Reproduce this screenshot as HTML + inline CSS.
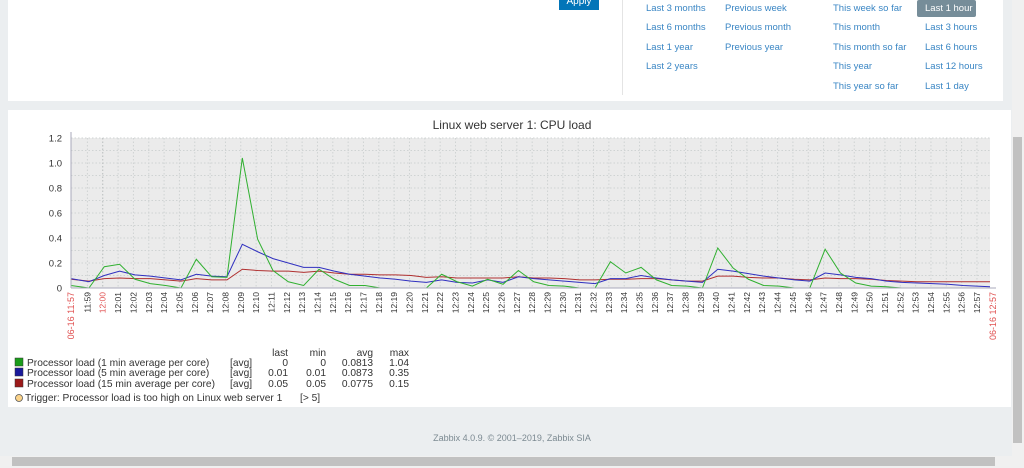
<!DOCTYPE html>
<html><head><meta charset="utf-8">
<style>
body{margin:0;width:1024px;height:468px;overflow:hidden;background:#ebeef0;font-family:"Liberation Sans",Arial,sans-serif;position:relative}
.abs{position:absolute}
.lnk{position:absolute;font-size:9.5px;color:#3a86c4;white-space:nowrap}
</style></head><body>
<div class="abs" style="left:8px;top:-2px;width:995px;height:103px;background:#fff"></div>
<div class="abs" style="left:559px;top:0;width:40px;height:10px;background:#0275b8;color:#fff;font-size:10px;text-align:center;line-height:4px">Apply</div>
<div class="abs" style="left:622px;top:0;width:1px;height:95px;background:#e4e4e4"></div>
<div class="lnk" style="left:646px;top:3px">Last 3 months</div>
<div class="lnk" style="left:646px;top:22px">Last 6 months</div>
<div class="lnk" style="left:646px;top:42px">Last 1 year</div>
<div class="lnk" style="left:646px;top:61px">Last 2 years</div>
<div class="lnk" style="left:725px;top:3px">Previous week</div>
<div class="lnk" style="left:725px;top:22px">Previous month</div>
<div class="lnk" style="left:725px;top:42px">Previous year</div>
<div class="lnk" style="left:833px;top:3px">This week so far</div>
<div class="lnk" style="left:833px;top:22px">This month</div>
<div class="lnk" style="left:833px;top:42px">This month so far</div>
<div class="lnk" style="left:833px;top:61px">This year</div>
<div class="lnk" style="left:833px;top:81px">This year so far</div>
<div class="abs" style="left:917px;top:0;width:59px;height:17px;background:#768d99;border-radius:2px"></div>
<div class="lnk" style="left:925px;top:3px;color:#fff">Last 1 hour</div>
<div class="lnk" style="left:925px;top:22px">Last 3 hours</div>
<div class="lnk" style="left:925px;top:42px">Last 6 hours</div>
<div class="lnk" style="left:925px;top:61px">Last 12 hours</div>
<div class="lnk" style="left:925px;top:81px">Last 1 day</div>

<div class="abs" style="left:8px;top:110px;width:1003px;height:297px;background:#fff"></div>
<svg class="abs" style="left:0;top:0" width="1024" height="468" id="chart" font-family="Liberation Sans, Arial, sans-serif">
<text x="512" y="129" text-anchor="middle" font-size="12" fill="#333">Linux web server 1: CPU load</text>
<rect x="71" y="138" width="919" height="150" fill="#ebebeb"/>
<g id="grid"></g><g id="ylab"></g><g id="xlab"></g><g id="series"></g>
<line x1="71" y1="132" x2="71" y2="288" stroke="#aab" stroke-width="1"/>
<line x1="71" y1="288" x2="996" y2="288" stroke="#aab" stroke-width="1"/>
<g font-size="10.2" fill="#333">
<text x="288" y="356" text-anchor="end">last</text><text x="326" y="356" text-anchor="end">min</text><text x="373" y="356" text-anchor="end">avg</text><text x="409" y="356" text-anchor="end">max</text>
<rect x="15" y="358" width="8" height="8" fill="#1a9c1a" stroke="#333" stroke-width="0.5"/>
<text x="27" y="366">Processor load (1 min average per core)</text><text x="230" y="366">[avg]</text>
<text x="288" y="366" text-anchor="end">0</text><text x="326" y="366" text-anchor="end">0</text><text x="373" y="366" text-anchor="end">0.0813</text><text x="409" y="366" text-anchor="end">1.04</text>
<rect x="15" y="368" width="8" height="8" fill="#1a1a9c" stroke="#333" stroke-width="0.5"/>
<text x="27" y="376">Processor load (5 min average per core)</text><text x="230" y="376">[avg]</text>
<text x="288" y="376" text-anchor="end">0.01</text><text x="326" y="376" text-anchor="end">0.01</text><text x="373" y="376" text-anchor="end">0.0873</text><text x="409" y="376" text-anchor="end">0.35</text>
<rect x="15" y="379" width="8" height="8" fill="#9c1a1a" stroke="#333" stroke-width="0.5"/>
<text x="27" y="387">Processor load (15 min average per core)</text><text x="230" y="387">[avg]</text>
<text x="288" y="387" text-anchor="end">0.05</text><text x="326" y="387" text-anchor="end">0.05</text><text x="373" y="387" text-anchor="end">0.0775</text><text x="409" y="387" text-anchor="end">0.15</text>
<circle cx="19" cy="398" r="3.5" fill="#fbd38a" stroke="#555" stroke-width="0.8"/>
<text x="25" y="401">Trigger: Processor load is too high on Linux web server 1</text><text x="300" y="401">[&gt; 5]</text>
</g>
<text x="512" y="441" text-anchor="middle" font-size="9" fill="#7c8a92">Zabbix 4.0.9. © 2001–2019, Zabbix SIA</text>
<rect x="1012" y="0" width="12" height="456" fill="#f0f0f0"/>
<rect x="1013" y="137" width="9" height="306" fill="#c1c1c1"/>
<rect x="0" y="456" width="1024" height="12" fill="#f0f0f0"/>
<rect x="12" y="457" width="983" height="9" fill="#c1c1c1"/>
</svg>
<script>
const yTicks=[0,0.2,0.4,0.6,0.8,1.0,1.2];
const yTickLabels=["0","0.2","0.4","0.6","0.8","1.0","1.2"];
const minuteLabels=["11:59","12:00","12:01","12:02","12:03","12:04","12:05","12:06","12:07","12:08","12:09","12:10","12:11","12:12","12:13","12:14","12:15","12:16","12:17","12:18","12:19","12:20","12:21","12:22","12:23","12:24","12:25","12:26","12:27","12:28","12:29","12:30","12:31","12:32","12:33","12:34","12:35","12:36","12:37","12:38","12:39","12:40","12:41","12:42","12:43","12:44","12:45","12:46","12:47","12:48","12:49","12:50","12:51","12:52","12:53","12:54","12:55","12:56","12:57"];
const minuteOffsets=[-1,0,1,2,3,4,5,6,7,8,9,10,11,12,13,14,15,16,17,18,19,20,21,22,23,24,25,26,27,28,29,30,31,32,33,34,35,36,37,38,39,40,41,42,43,44,45,46,47,48,49,50,51,52,53,54,55,56,57];
const pointTimes=[-2.07,-0.9,0.1,1.1,2.1,3.1,4.1,5.1,6.1,7.1,8.1,9.1,10.1,11.1,12.1,13.1,14.1,15.1,16.1,17.1,18.1,19.1,20.1,21.1,22.1,23.1,24.1,25.1,26.1,27.1,28.1,29.1,30.1,31.1,32.1,33.1,34.1,35.1,36.1,37.1,38.1,39.1,40.1,41.1,42.1,43.1,44.1,45.1,46.1,47.1,48.1,49.1,50.1,51.1,52.1,53.1,54.1,55.1,56.1,57.85];
const load1=[0.02,0,0.17,0.19,0.07,0.035,0.02,0,0.23,0.09,0.085,1.04,0.39,0.14,0.05,0.02,0.15,0.07,0.02,0.02,0,0,0,0,0.11,0.05,0.015,0.07,0.03,0.14,0.05,0.02,0.015,0,0,0.21,0.12,0.165,0.065,0.02,0.015,0,0.32,0.16,0.07,0.02,0.015,0,0,0.31,0.12,0.04,0.015,0.01,0,0,0,0,0,0];
const load5=[0.075,0.05,0.1,0.135,0.105,0.095,0.08,0.065,0.11,0.095,0.09,0.35,0.29,0.235,0.2,0.165,0.165,0.135,0.11,0.095,0.08,0.07,0.055,0.045,0.065,0.045,0.04,0.065,0.045,0.09,0.075,0.065,0.055,0.045,0.035,0.075,0.075,0.1,0.08,0.065,0.055,0.045,0.15,0.135,0.115,0.095,0.08,0.065,0.055,0.12,0.105,0.085,0.075,0.055,0.045,0.04,0.035,0.03,0.02,0.01];
const load15=[0.07,0.055,0.075,0.08,0.075,0.075,0.065,0.055,0.075,0.065,0.065,0.15,0.14,0.135,0.135,0.125,0.135,0.12,0.11,0.11,0.105,0.105,0.1,0.085,0.09,0.08,0.08,0.08,0.08,0.09,0.08,0.08,0.075,0.065,0.065,0.07,0.07,0.075,0.075,0.065,0.055,0.055,0.095,0.095,0.085,0.08,0.08,0.07,0.065,0.08,0.075,0.075,0.07,0.06,0.055,0.05,0.05,0.05,0.05,0.05];
const NS="http://www.w3.org/2000/svg";
const X0=71,X1=990,T0=-2.07,T1=57.85,Y0=288,Y1=138,VMAX=1.2;
function xs(t){return X0+(t-T0)/(T1-T0)*(X1-X0);}
function ys(v){return Y0-v/VMAX*(Y0-Y1);}
function mk(tag,attrs,parent){const e=document.createElementNS(NS,tag);for(const k in attrs)e.setAttribute(k,attrs[k]);parent.appendChild(e);return e;}
const grid=document.getElementById('grid'),yl=document.getElementById('ylab'),xl=document.getElementById('xlab'),sg=document.getElementById('series');
for(let v=0.1;v<=1.2001;v+=0.1){mk('line',{x1:X0,x2:X1,y1:ys(v),y2:ys(v),stroke:'#cfd3d3','stroke-dasharray':'1.5,2','stroke-width':1},grid);}
minuteOffsets.forEach((m,i)=>{const x=xs(m);
 mk('line',{x1:x,x2:x,y1:Y1,y2:Y0,stroke:m===0?'#b8bcbc':'#cfd3d3','stroke-dasharray':'1.5,2','stroke-width':1},grid);
 const t=mk('text',{x:0,y:0,transform:`translate(${x+3},${Y0+4}) rotate(-90)`,'text-anchor':'end','font-size':8.5,fill:m===0?'#e05050':'#333'},xl);
 
 
 t.textContent=minuteLabels[i];});
[[X0,"06-16 11:57"],[X1+3,"06-16 12:57"]].forEach(([x,s])=>{const t=mk('text',{transform:`translate(${x+3},${Y0+4}) rotate(-90)`,'text-anchor':'end','font-size':9,fill:'#e05050'},xl);
 
 
 t.textContent=s;});
yTicks.forEach((v,i)=>{const t=mk('text',{x:62,y:ys(v)+3.5,'text-anchor':'end','font-size':9.5,fill:'#333'},yl);
 
 
 t.textContent=yTickLabels[i];});
function line(vals,color,name){const pts=vals.map((v,i)=>xs(Math.max(T0,Math.min(T1,pointTimes[i])))+','+ys(v)).join(' ');
 const p=mk('polyline',{points:pts,fill:'none',stroke:color,'stroke-width':1},sg);
 
 }
line(load15,'#b03030','series-15min');
line(load5,'#3030c0','series-5min');
line(load1,'#30b030','series-1min');
</script>
</body></html>
